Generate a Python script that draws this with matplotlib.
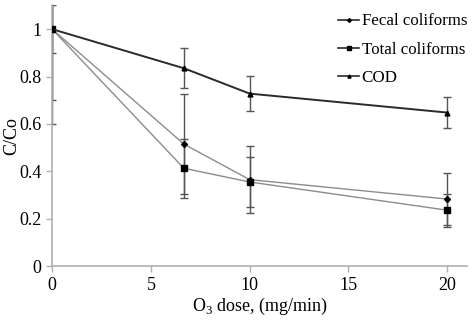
import matplotlib
matplotlib.use("Agg")
import matplotlib.pyplot as plt

# O3 dose and normalized concentrations
dose = [0, 6.67, 10, 20]
fecal = [1.0, 0.515, 0.365, 0.283]
fecal_err = [0.3, 0.21, 0.14, 0.11]
total = [1.0, 0.413, 0.355, 0.236]
total_err = [0.4, 0.125, 0.105, 0.07]
cod = [1.0, 0.835, 0.728, 0.648]
cod_err = [0.1, 0.085, 0.075, 0.064]

yticks = [0, 0.2, 0.4, 0.6, 0.8, 1.0]
ytick_labels = ["0", "0.2", "0.4", "0.6", "0.8", "1"]
xticks = [0, 5, 10, 15, 20]

plt.rcParams['font.family'] = ['Liberation Serif', 'DejaVu Serif']
plt.rcParams['mathtext.fontset'] = 'custom'
plt.rcParams['mathtext.rm'] = 'Liberation Serif'

fig = plt.figure(figsize=(4.74, 3.21), dpi=100)
ax = fig.add_axes([0.11, 0.171, 0.875, 0.812])

# error bars first, then the lines (used for the legend)
for y, e in [(fecal, fecal_err), (total, total_err), (cod, cod_err)]:
    ax.errorbar(dose, y, yerr=e, fmt='none', ecolor='#555555', elinewidth=1.0,
                capsize=3, zorder=2)

ax.plot(dose, fecal, color='#8c8c8c', lw=1.0, marker='D', ms=3, mfc='black', mec='black',
        label='Fecal coliforms', zorder=3)
ax.plot(dose, total, color='#8c8c8c', lw=1.0, marker='s', ms=5, mfc='black', mec='black',
        label='Total coliforms', zorder=3)
ax.plot(dose, cod, color='#2a2a2a', lw=1.4, marker='^', ms=3.5, mfc='black', mec='black',
        label='COD', zorder=4)

ax.set_xlim(0, 21)
ax.set_ylim(0, 1.1)
ax.set_xticks(xticks)
ax.set_yticks(yticks)
ax.set_yticklabels(ytick_labels)
ax.tick_params(labelsize=13, color='#b0b0b0', length=4, width=1)
for s in ['top', 'right']:
    ax.spines[s].set_visible(False)
for s in ['left', 'bottom']:
    ax.spines[s].set_color('#b0b0b0')
    ax.spines[s].set_linewidth(1.2)

ax.set_xlabel('O$_3$ dose, (mg/min)', fontsize=13, labelpad=2)
ax.set_ylabel('C/Co', fontsize=13)
ax.yaxis.set_label_coords(-0.077, 0.5)

leg = ax.legend(loc='upper left', bbox_to_anchor=(338 / 474, 0.958),
                bbox_transform=fig.transFigure, frameon=False, fontsize=12.2,
                handlelength=1.25, handletextpad=0.15, labelspacing=0.72,
                borderpad=0, borderaxespad=0, markerscale=0.65)
for h in leg.get_lines():
    h.set_color('#2a2a2a')
    h.set_linewidth(1.2)

fig.savefig('out.png', dpi=100)
